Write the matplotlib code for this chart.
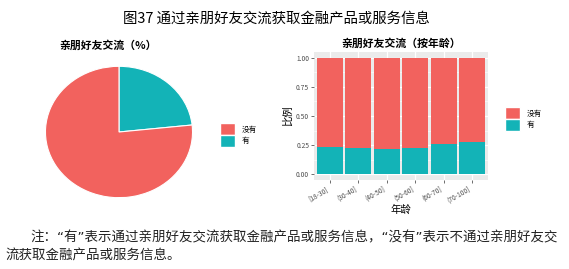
import matplotlib
matplotlib.use("Agg")
import matplotlib.pyplot as plt
from matplotlib.patches import Patch

plt.rcParams['font.family'] = ['Noto Sans CJK SC', 'DejaVu Sans']

# data
pie_labels = ['有', '没有']
pie_values = [0.233, 0.767]
age_groups = ['[18-30]', '(30-40]', '(40-50]', '(50-60]', '(60-70]', '(70-100]']
share_yes = [0.236, 0.228, 0.216, 0.225, 0.256, 0.280]
share_no = [1 - v for v in share_yes]

RED = '#F2625E'
TEAL = '#13B3B7'
W, H = 569, 269


def box(x0, y0, x1, y1):
    return [x0 / W, 1 - y1 / H, (x1 - x0) / W, (y1 - y0) / H]


fig = plt.figure(figsize=(W / 100, H / 100), dpi=100)

fig.text(276 / W, 1 - 19 / H, '图37 通过亲朋好友交流获取金融产品或服务信息',
         ha='center', va='center', fontsize=10.4, style='italic')

# pie
ax1 = fig.add_axes(box(44, 65, 194, 199))
ax1.pie(pie_values, colors=[TEAL, RED], startangle=90, counterclock=False,
        wedgeprops=dict(edgecolor='white', linewidth=0.8))
ax1.set_aspect('auto')
ax1.set_xlim(-1.02, 1.02)
ax1.set_ylim(-1.02, 1.02)
fig.text(108 / W, 1 - 45 / H, '亲朋好友交流（%）', ha='center', va='center',
         fontsize=7.8, fontweight='bold')

leg_handles = [Patch(facecolor=RED, edgecolor='white'), Patch(facecolor=TEAL, edgecolor='white')]
leg_kw = dict(loc='center left', frameon=False, fontsize=5.5,
              handlelength=2.0, handleheight=2.0, handletextpad=0.8,
              labelspacing=0.0, borderpad=0, borderaxespad=0)
fig.legend(leg_handles, ['没有', '有'], bbox_to_anchor=(220 / W, 1 - 135 / H), **leg_kw)

# stacked bars
ax2 = fig.add_axes(box(314, 52, 488, 180))
ax2.set_facecolor('#EBEBEB')
x = range(len(age_groups))
ax2.bar(x, share_yes, width=0.9, color=TEAL, zorder=3)
ax2.bar(x, share_no, bottom=share_yes, width=0.9, color=RED, zorder=3)
ax2.set_xlim(-0.55, len(age_groups) - 0.45)
ax2.set_ylim(-0.05, 1.05)
ax2.set_yticks([0, 0.25, 0.5, 0.75, 1.0])
ax2.set_yticklabels(['0.00', '0.25', '0.50', '0.75', '1.00'])
ax2.set_yticks([0.125, 0.375, 0.625, 0.875], minor=True)
ax2.set_xticks(list(x))
ax2.set_xticklabels(age_groups, rotation=30, ha='right')
ax2.grid(True, which='major', color='white', linewidth=0.9, zorder=0)
ax2.grid(True, which='minor', axis='y', color='white', linewidth=0.4, zorder=0)
ax2.tick_params(which='major', labelsize=4.8, labelcolor='#4D4D4D', color='#333333',
                length=2, width=0.5, pad=1.5)
ax2.tick_params(which='minor', length=0)
for s in ax2.spines.values():
    s.set_visible(False)
ax2.set_ylabel('比例', fontsize=7.5, labelpad=2)
ax2.set_xlabel('年龄', fontsize=7.5, labelpad=0)
ax2.set_title('亲朋好友交流（按年龄）', fontsize=7.8, fontweight='bold', pad=4)

fig.legend(leg_handles, ['没有', '有'], bbox_to_anchor=(505 / W, 1 - 119 / H), **leg_kw)

# footnote
note_family = ['DejaVu Sans', 'Noto Sans CJK SC']
fig.text(30 / W, 1 - 238 / H,
         '注：“有”表示通过亲朋好友交流获取金融产品或服务信息，“没有”表示不通过亲朋好友交',
         ha='left', va='center', fontsize=9.7, family=note_family, color='#222222')
fig.text(5 / W, 1 - 256 / H, '流获取金融产品或服务信息。',
         ha='left', va='center', fontsize=9.7, family=note_family, color='#222222')

fig.savefig('out.png', dpi=100, facecolor='white')
